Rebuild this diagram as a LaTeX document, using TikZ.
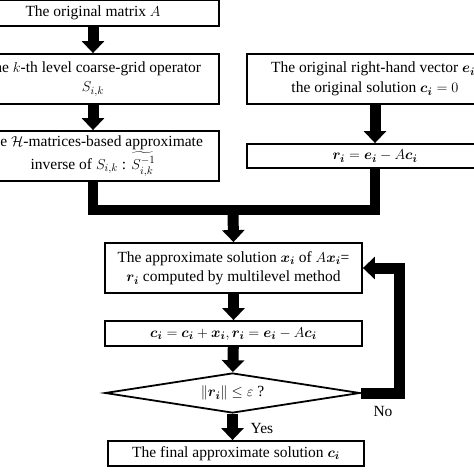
\documentclass[tikz,border=0pt]{standalone}
\usepackage{amsmath}
\usepackage{bm}
\usepackage{fontspec}
\setmainfont{Liberation Serif}
\usetikzlibrary{arrows.meta,shapes.geometric}
\tikzset{
  box/.style={draw, line width=1.8pt, fill=white, align=center, inner sep=0pt,
    font=\fontsize{15.5}{19.5}\selectfont},
  flow/.style={line width=11pt, -{Triangle[width=22pt,length=12pt]}},
  bar/.style={line width=10.5pt},
  lab/.style={font=\fontsize{15.5}{19}\selectfont, inner sep=0pt}
}
\begin{document}
\begin{tikzpicture}[x=1pt,y=-1pt]
\useasboundingbox (0,0) rectangle (474,474);
\clip (0,0) rectangle (474,474);
% left column
\node[box, minimum width=252pt, minimum height=26pt] (mat) at (93,13) {The original matrix $A$};
\node[box, minimum width=252pt, minimum height=50pt] (op) at (93,79) {The $k$-th level coarse-grid operator\\$S_{i,k}$};
\node[box, minimum width=252pt, minimum height=50pt] (inv) at (93,156) {The $\mathcal{H}$-matrices-based approximate\\[1pt]inverse of $S_{i,k}$ : $\widetilde{S_{i,k}^{-1}}$};
% right column
\node[box, minimum width=256pt, minimum height=50pt] (rhs) at (375,79) {The original right-hand vector $\bm{e_i}$,\\the original solution $\bm{c_i}=0$};
\node[box, minimum width=256pt, minimum height=24pt] (res) at (375,156) {$\bm{r_i}=\bm{e_i}-A\bm{c_i}$};
% center column
\node[box, minimum width=257pt, minimum height=50pt] (sol) at (233.5,268) {The approximate solution $\bm{x_i}$ of $A\bm{x_i}$=\\$\bm{r_i}$ computed by multilevel method};
\node[box, minimum width=257pt, minimum height=25pt] (upd) at (233.5,333.5) {$\bm{c_i}=\bm{c_i}+\bm{x_i},\bm{r_i}=\bm{e_i}-A\bm{c_i}$};
\node[box, shape=diamond, shape aspect=6.375, minimum width=255pt, minimum height=40pt] (dec) at (232.5,393) {$\|\bm{r_i}\|\le\varepsilon$ ?};
\node[box, minimum width=256pt, minimum height=25pt] (fin) at (236,453.5) {The final approximate solution $\bm{c_i}$};
% connectors
\draw[flow] (mat) -- (op);
\draw[flow] (op) -- (inv);
\draw[flow] (rhs) -- (res);
\coordinate (m) at (233,210);
\draw[bar] (inv.south) |- (m) -| (res.south);
\draw[flow] (m) -- (sol.north);
\draw[flow] (sol) -- (upd);
\draw[flow] (upd) -- (dec);
\draw[flow] (dec.south) -- (fin.north -| dec.south);
\coordinate (fb) at (399,268);
\draw[flow] (dec.east) -| (fb) -- (sol.east);
\node[lab] (yes) at (262,428) {Yes};
\node[lab] (no) at (383,411) {No};
\end{tikzpicture}
\end{document}
